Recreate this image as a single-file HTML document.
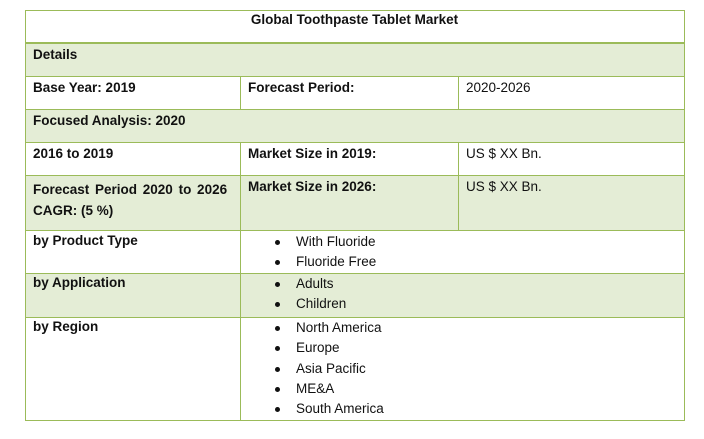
<!DOCTYPE html>
<html><head><meta charset="utf-8"><style>
body{margin:0;width:704px;height:439px;background:#fff;position:relative;overflow:hidden;font-family:"Liberation Sans",sans-serif;font-size:13.5px;color:#111}
.r{position:absolute;left:25px;width:660px;box-sizing:border-box;border-left:1px solid #9bbb59;border-right:1px solid #9bbb59;border-bottom:1px solid #9bbb59}
.g{background:#e4edd6}
.t{position:absolute;white-space:nowrap}
.b{font-weight:bold}
.v{position:absolute;width:1px;background:#9bbb59}
.li{position:absolute;left:296px;white-space:nowrap}
.li:before{content:"";position:absolute;left:-21px;top:6px;width:5px;height:5px;border-radius:50%;background:#111}
</style></head><body>
<div class="r" style="top:10px;height:34px;border-top:1px solid #9bbb59;border-bottom:2px solid #9bbb59"></div>
<div class="t b" style="left:0;width:709px;text-align:center;top:12px">Global Toothpaste Tablet Market</div>
<div class="r g" style="top:44px;height:33px"></div>
<div class="r" style="top:77px;height:33px"></div>
<div class="r g" style="top:110px;height:33px"></div>
<div class="r" style="top:143px;height:33px"></div>
<div class="r g" style="top:176px;height:55px"></div>
<div class="r" style="top:231px;height:43px"></div>
<div class="r g" style="top:274px;height:44px"></div>
<div class="r" style="top:318px;height:103px"></div>
<div class="v" style="left:240px;top:77px;height:33px"></div>
<div class="v" style="left:458px;top:77px;height:33px"></div>
<div class="v" style="left:240px;top:143px;height:88px"></div>
<div class="v" style="left:458px;top:143px;height:88px"></div>
<div class="v" style="left:240px;top:231px;height:190px"></div>
<div class="t b" style="left:33px;top:47px">Details</div>
<div class="t b" style="left:33px;top:80px">Base Year: 2019</div>
<div class="t b" style="left:248px;top:80px">Forecast Period:</div>
<div class="t" style="left:466px;top:80px">2020-2026</div>
<div class="t b" style="left:33px;top:113px">Focused Analysis: 2020</div>
<div class="t b" style="left:33px;top:146px">2016 to 2019</div>
<div class="t b" style="left:248px;top:146px">Market Size in 2019:</div>
<div class="t" style="left:466px;top:146px">US $ XX Bn.</div>
<div class="t b" style="left:33px;top:179px;line-height:21px;word-spacing:2px">Forecast Period 2020 to 2026<br><span style="word-spacing:0">CAGR: (5 %)</span></div>
<div class="t b" style="left:248px;top:179px">Market Size in 2026:</div>
<div class="t" style="left:466px;top:179px">US $ XX Bn.</div>
<div class="t b" style="left:33px;top:233px">by Product Type</div>
<div class="li" style="top:234px">With Fluoride</div>
<div class="li" style="top:254px">Fluoride Free</div>
<div class="t b" style="left:33px;top:275px">by Application</div>
<div class="li" style="top:276px">Adults</div>
<div class="li" style="top:296px">Children</div>
<div class="t b" style="left:33px;top:319px">by Region</div>
<div class="li" style="top:320px">North America</div>
<div class="li" style="top:340px">Europe</div>
<div class="li" style="top:361px">Asia Pacific</div>
<div class="li" style="top:381px">ME&amp;A</div>
<div class="li" style="top:401px">South America</div>
</body></html>
